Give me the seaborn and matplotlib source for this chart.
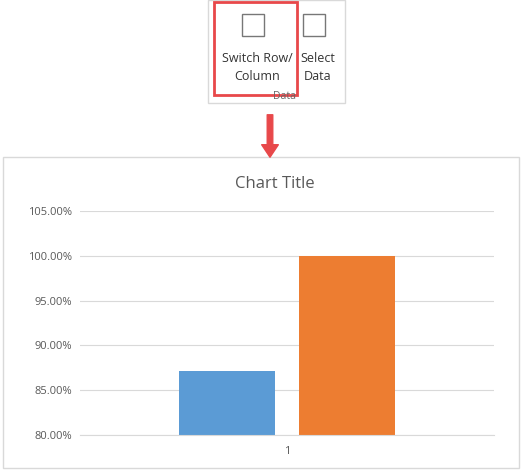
import matplotlib
matplotlib.use("Agg")
import matplotlib.pyplot as plt
import matplotlib.patches as mpatches
import pandas as pd
import seaborn as sns

categories = ["1", "1"]
series = ["Series1", "Series2"]
values = [87.1, 100.0]
colors = ["#5B9BD5", "#ED7D31"]
yticks = [80, 85, 90, 95, 100, 105]

W, H = 522, 473
fig = plt.figure(figsize=(W / 100, H / 100), dpi=100)
plt.rcParams['font.family'] = ['Open Sans', 'DejaVu Sans']

def fx(x):
    return x / W

def fy(y):
    return 1 - y / H

# ribbon section (screenshot top)
over = fig.add_axes([0, 0, 1, 1])
over.set_xlim(0, W)
over.set_ylim(H, 0)
over.axis("off")
over.add_patch(mpatches.Rectangle((208, 0), 137, 103, fill=False, ec="#d9d9d9", lw=1))
over.add_patch(mpatches.Rectangle((214, 2), 83, 93, fill=False, ec="#e8484a", lw=2))
over.add_patch(mpatches.Rectangle((242, 14), 22, 22, fill=False, ec="#777777", lw=1))
over.add_patch(mpatches.Rectangle((303, 14), 22, 22, fill=False, ec="#777777", lw=1))
over.text(257, 59, "Switch Row/", ha="center", va="center", fontsize=9, color="#333333")
over.text(257, 76, "Column", ha="center", va="center", fontsize=9, color="#333333")
over.text(318, 59, "Select", ha="center", va="center", fontsize=9, color="#333333")
over.text(318, 76, "Data", ha="center", va="center", fontsize=9, color="#333333")
over.text(285, 96, "Data", ha="center", va="center", fontsize=7.5, color="#666666")
over.annotate("", xy=(270, 160), xytext=(270, 112),
              arrowprops=dict(arrowstyle="simple,head_width=1.2,head_length=0.9,tail_width=0.4",
                              color="#e8484a"))
over.add_patch(mpatches.Rectangle((3, 157), 516, 311, fill=False, ec="#d9d9d9", lw=1))
over.text(275, 184, "Chart Title", ha="center", va="center", fontsize=12, color="#595959")

# chart
ax = fig.add_axes([fx(80), fy(435), fx(494) - fx(80), fy(211) - fy(435)])
df = pd.DataFrame({"cat": categories, "series": series, "value": values})
sns.barplot(data=df, x="cat", y="value", hue="series", palette=colors, saturation=1,
            width=0.58, gap=0.2, legend=False, ax=ax)
ax.set_ylim(80, 105)
ax.set_yticks(yticks)
ax.set_yticklabels([f"{v:.2f}%" for v in yticks], fontsize=8, color="#595959")
ax.tick_params(axis="x", labelsize=8, colors="#595959", length=0, pad=8)
ax.tick_params(axis="y", length=0, pad=6)
ax.grid(axis="y", color="#d9d9d9", lw=0.8)
ax.set_axisbelow(True)
for s in ["top", "right", "left"]:
    ax.spines[s].set_visible(False)
ax.spines["bottom"].set_color("#d9d9d9")
ax.set_xlabel("")
ax.set_ylabel("")

fig.savefig("out.png", dpi=100)
